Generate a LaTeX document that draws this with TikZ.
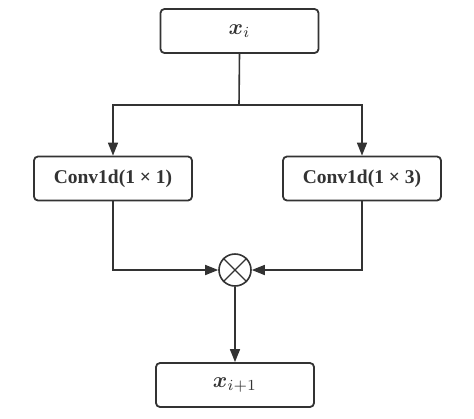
\documentclass[tikz,border=0pt]{standalone}
\usepackage{graphicx}
\usepackage{bm}
\usepackage{fontspec}
\newfontfamily\tnr{Liberation Serif}
\usetikzlibrary{arrows.meta}
\definecolor{ink}{HTML}{333333}
\newcommand{\mylabelmath}[1]{\scalebox{2.2}{$#1$}}
\begin{document}
\begin{tikzpicture}[x=1pt,y=-1pt,
  blk/.style={draw=ink,line width=1.8pt,rounded corners=4pt,minimum width=158pt,minimum height=44pt,inner sep=0pt,text=ink},
  convtxt/.style={font=\tnr\bfseries\fontsize{19.5}{22}\selectfont},
  conn/.style={draw=ink,line width=1.6pt},
  arr/.style={conn,-{Triangle[length=13pt,width=10pt]}},
  mult/.style={draw=ink,line width=1.6pt,circle,minimum size=32pt,inner sep=0pt}]
\useasboundingbox (0,0) rectangle (474,418);
\node[blk] (xi) at (239.5,31) {\mylabelmath{\bm{x}_{i}}};
\node[blk,convtxt] (c1) at (113,178.5) {Conv1d(1 × 1)};
\node[blk,convtxt] (c3) at (362,178.5) {Conv1d(1 × 3)};
\node[mult] (m) at (235,270) {};
\draw[ink,line width=1.2pt] (m.north west) -- (m.south east) (m.north east) -- (m.south west);
\node[blk] (xo) at (235,385) {\mylabelmath{\bm{x}_{i+1}}};
\coordinate (j) at (239,105);
\draw[conn] (xi.south) -- (j);
\draw[arr] (j) -| (c1.north);
\draw[arr] (j) -| (c3.north);
\draw[arr] (c1.south) |- (m.west);
\draw[arr] (c3.south) |- (m.east);
\draw[arr] (m.south) -- (xo.north);
\end{tikzpicture}
\end{document}
